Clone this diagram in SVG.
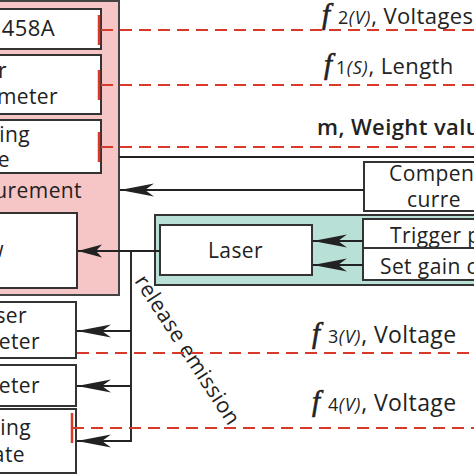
<svg xmlns="http://www.w3.org/2000/svg" width="474" height="474" viewBox="0 0 474 474">
<defs>
<style>
text{font-family:"Open Sans","DejaVu Sans",sans-serif;font-size:21px;fill:#222;letter-spacing:0.4px}
.box{fill:#fff;stroke:#333;stroke-width:2}
.pink{fill:#f6c5c5;stroke:#444;stroke-width:2}
.teal{fill:#b9e0d7;stroke:#333;stroke-width:2}
.ln{stroke:#222;stroke-width:1.9;fill:none}
.dash{stroke:#d8392b;stroke-width:1.8;stroke-dasharray:12 7;fill:none}
.tick{stroke:#d8392b;stroke-width:2.5}
.f{font-family:"Liberation Serif","DejaVu Serif",serif;font-style:italic;font-size:29px;stroke:#222;stroke-width:0.6px}
.s{font-size:18px}
.si{font-size:18px;font-style:italic;letter-spacing:0.8px}
.up{font-size:22px}
.lo{font-size:23px}
</style>
<marker id="ah" markerUnits="userSpaceOnUse" markerWidth="34" markerHeight="14" viewBox="0 0 34 14" refX="34" refY="7" orient="auto">
<path d="M34,7 L0,0.5 L9,7 L0,13.5 Z" fill="#222"/>
</marker>
<marker id="ahs" markerUnits="userSpaceOnUse" markerWidth="24" markerHeight="14" viewBox="0 0 24 14" refX="24" refY="7" orient="auto">
<path d="M24,7 L0,0.5 L6,7 L0,13.5 Z" fill="#222"/>
</marker>
</defs>
<rect width="474" height="474" fill="#fff"/>

<g id="measurement">
<rect class="pink" x="-10" y="1" width="129" height="294"/>
<text x="82" y="198" text-anchor="end">urement</text>
</g>
<g id="box1">
<rect class="box" x="-10" y="9" width="111" height="40"/>
<text x="55" y="36" text-anchor="end" style="font-size:22px">458A</text>
</g>
<g id="box2">
<rect class="box" x="-10" y="55" width="111" height="59"/>
<text x="7" y="78" text-anchor="end">r</text>
<text x="58" y="104" text-anchor="end">meter</text>
</g>
<g id="box3">
<rect class="box" x="-10" y="120" width="111" height="53"/>
<text x="30" y="142" text-anchor="end">ing</text>
<text x="10" y="167" text-anchor="end">e</text>
</g>
<g id="box4">
<rect class="box" x="-10" y="213" width="87" height="75"/>
<text x="4" y="257" text-anchor="end">w</text>
</g>
<g id="box5">
<rect class="box" x="-10" y="302" width="86" height="56"/>
<text x="27" y="323" text-anchor="end">ser</text>
<text x="40" y="349" text-anchor="end">eter</text>
</g>
<g id="box6">
<rect class="box" x="-10" y="365" width="86" height="41"/>
<text x="40" y="393" text-anchor="end">eter</text>
</g>
<g id="box7">
<rect class="box" x="-10" y="409" width="86" height="64"/>
<text x="31" y="435" text-anchor="end">ing</text>
<text x="25" y="462" text-anchor="end">ate</text>
</g>
<g id="compensation">
<rect class="box" x="364" y="162" width="120" height="49"/>
<text x="389" y="181">Compen</text>
<text x="407" y="207">curre</text>
</g>
<g id="laser-group">
<rect class="teal" x="155" y="215" width="330" height="70"/>
</g>
<g id="laser">
<rect class="box" x="160" y="225" width="152" height="50"/>
<text x="208" y="258">Laser</text>
</g>
<g id="trigger">
<rect class="box" x="363" y="219" width="120" height="29"/>
<text x="390" y="243">Trigger p</text>
</g>
<g id="setgain">
<rect class="box" x="363" y="248" width="120" height="32"/>
<text x="380" y="274">Set gain c</text>
</g>

<g id="connectors">
<line class="ln" x1="119" y1="157" x2="474" y2="157"/>
<line class="ln" x1="364" y1="190" x2="120" y2="190" marker-end="url(#ah)"/>
<line class="ln" x1="363" y1="241" x2="313" y2="241" marker-end="url(#ah)"/>
<line class="ln" x1="363" y1="265" x2="313" y2="265" marker-end="url(#ah)"/>
<line class="ln" x1="160" y1="251" x2="78" y2="251" marker-end="url(#ahs)"/>
<line class="ln" x1="131" y1="251" x2="131" y2="442"/>
<line class="ln" x1="131" y1="331" x2="77" y2="331" marker-end="url(#ah)"/>
<line class="ln" x1="131" y1="386" x2="77" y2="386" marker-end="url(#ah)"/>
<line class="ln" x1="131" y1="441" x2="77" y2="441" marker-end="url(#ah)"/>
<text transform="translate(134,281) rotate(57)" style="font-size:21.5px">release emission</text>
</g>

<g id="signals">
<line class="dash" x1="101" y1="30" x2="474" y2="30"/>
<line class="tick" x1="99" y1="15" x2="99" y2="45"/>
<line class="dash" x1="101" y1="85" x2="474" y2="85"/>
<line class="tick" x1="99" y1="70" x2="99" y2="100"/>
<line class="dash" x1="101" y1="147" x2="474" y2="147"/>
<line class="tick" x1="99" y1="132" x2="99" y2="162"/>
<line class="dash" x1="77" y1="353" x2="474" y2="353"/>
<line class="dash" x1="72" y1="428" x2="474" y2="428"/>
<line class="tick" x1="72" y1="413" x2="72" y2="443"/>
<text class="up" x="322" y="24"><tspan class="f">f</tspan><tspan class="s" x="338">2</tspan><tspan class="si">(V)</tspan>, Voltages</text>
<text class="up" x="324" y="74"><tspan class="f">f</tspan><tspan class="s" x="336">1</tspan><tspan class="si">(S)</tspan>, Length</text>
<text x="317" y="135" font-weight="600" style="font-size:22px">m, Weight valu</text>
<text class="lo" x="312" y="343"><tspan class="f">f</tspan><tspan class="s" x="328">3</tspan><tspan class="si">(V)</tspan>, Voltage</text>
<text class="lo" x="312" y="411"><tspan class="f">f</tspan><tspan class="s" x="328">4</tspan><tspan class="si">(V)</tspan>, Voltage</text>
</g>
</svg>
